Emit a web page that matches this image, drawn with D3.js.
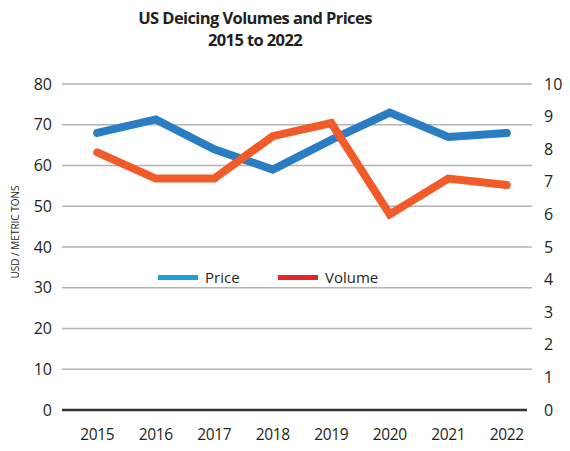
<!DOCTYPE html>
<html>
<head>
<meta charset="utf-8">
<script src="https://cdn.jsdelivr.net/npm/d3@7"></script>
<style>
  body { margin: 0; background: #fff; }
  text { font-family: "Open Sans", "Noto Sans", sans-serif; fill: #231f20; }
</style>
</head>
<body>
<svg id="chart" width="570" height="451"></svg>
<script>
const years = ["2015", "2016", "2017", "2018", "2019", "2020", "2021", "2022"]
const price = [68, 71.3, 64, 59, 66.3, 73, 67, 68]
const volume = [7.9, 7.1, 7.1, 8.4, 8.8, 6.0, 7.1, 6.9]
const leftTicks = [0, 10, 20, 30, 40, 50, 60, 70, 80]
const rightTicks = [0, 1, 2, 3, 4, 5, 6, 7, 8, 9, 10]

const svg = d3.select('#chart')

const x = d3.scaleBand().domain(years).range([68, 536])
const yL = d3.scaleLinear().domain([0, 80]).range([410, 84])
const yR = d3.scaleLinear().domain([0, 10]).range([410, 84])
const cx = d => x(d) + x.bandwidth() / 2

// title
svg.append('text').attr('x', 255).attr('y', 24).attr('text-anchor', 'middle')
    .style('font-size', '16.5px').style('font-weight', 'bold').style('letter-spacing', '-0.6px')
    .text('US Deicing Volumes and Prices')
svg.append('text').attr('x', 255).attr('y', 46).attr('text-anchor', 'middle')
    .style('font-size', '16.5px').style('font-weight', 'bold').style('letter-spacing', '-0.6px')
    .text('2015 to 2022')

// gridlines
leftTicks.slice(1).forEach(t => {
    svg.append('line')
        .attr('x1', 62).attr('x2', 532)
        .attr('y1', yL(t)).attr('y2', yL(t))
        .style('stroke', '#b3b3b3').style('stroke-width', 1.5)
})
svg.append('line')
    .attr('x1', 62).attr('x2', 527)
    .attr('y1', yL(0)).attr('y2', yL(0))
    .style('stroke', '#333').style('stroke-width', 2.5)

// left axis labels
svg.selectAll('.lt').data(leftTicks).enter().append('text')
    .attr('x', 52).attr('y', d => yL(d) + 5.5).attr('text-anchor', 'end')
    .style('font-size', '16px').text(d => d)

// right axis labels
svg.selectAll('.rt').data(rightTicks).enter().append('text')
    .attr('x', 544).attr('y', d => yR(d) + 5.5)
    .style('font-size', '16px').text(d => d)

// x labels
svg.selectAll('.xt').data(years).enter().append('text')
    .attr('x', d => cx(d)).attr('y', 440).attr('text-anchor', 'middle')
    .style('font-size', '15.5px').style('letter-spacing', '-0.4px').text(d => d)

// y axis title
svg.append('text')
    .attr('transform', 'translate(19,232) rotate(-90)')
    .attr('text-anchor', 'middle')
    .style('font-size', '10px')
    .text('USD / METRIC TONS')

// lines
const priceLine = d3.line().x((d, i) => cx(years[i])).y(d => yL(d))
const volLine = d3.line().x((d, i) => cx(years[i])).y(d => yR(d))

svg.append('path').datum(price).attr('d', priceLine)
    .style('fill', 'none').style('stroke', '#2a7dc2').style('stroke-width', 8)
    .style('stroke-linecap', 'round')
svg.append('path').datum(volume).attr('d', volLine)
    .style('fill', 'none').style('stroke', '#f15a29').style('stroke-width', 8)
    .style('stroke-linecap', 'round')

// legend
const legend = [
    { name: 'Price', color: '#1aa0dc', x: 158 },
    { name: 'Volume', color: '#e92229', x: 278 }
]
legend.forEach(l => {
    svg.append('rect').attr('x', l.x).attr('y', 275).attr('width', 40).attr('height', 5)
        .style('fill', l.color)
    svg.append('text').attr('x', l.x + 47).attr('y', 283)
        .style('font-size', '15px').text(l.name)
})
</script>
</body>
</html>
